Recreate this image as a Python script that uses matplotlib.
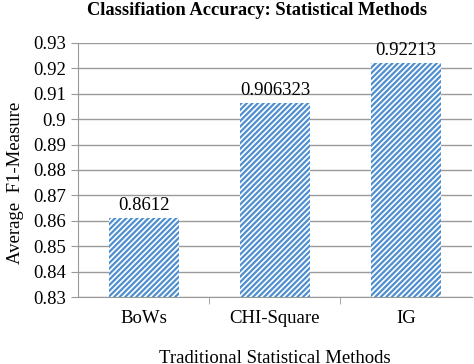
import matplotlib.pyplot as plt

# Data
methods = ['BoWs', 'CHI-Square', 'IG']
scores = [0.8612, 0.906323, 0.92213]
labels = ['0.8612', '0.906323', '0.92213']

plt.rcParams['font.family'] = ['Liberation Serif', 'DejaVu Serif']
plt.rcParams['hatch.linewidth'] = 1.6
plt.rcParams['hatch.color'] = '#4f8fd0'

fig = plt.figure(figsize=(4.74, 3.64), dpi=100)
ax = fig.add_axes([0.165, 0.184, 0.83, 0.698])

bars = ax.bar(range(len(methods)), scores, width=0.53, color='white',
              edgecolor='#4f8fd0', hatch='//////', linewidth=0, zorder=3)

# value labels above bars
for bar, txt in zip(bars, labels):
    ax.annotate(txt, xy=(bar.get_x() + bar.get_width() / 2, bar.get_height()),
                xytext=(0, 3), textcoords='offset points',
                ha='center', va='bottom', fontsize=13.5, zorder=4)

ax.set_ylim(0.83, 0.93)
ax.set_xlim(-0.5, 2.5)
ax.set_yticks([0.83 + 0.01 * i for i in range(11)])
ax.set_yticklabels(['0.83', '0.84', '0.85', '0.86', '0.87', '0.88',
                    '0.89', '0.9', '0.91', '0.92', '0.93'])
ax.set_xticks(range(len(methods)))
ax.set_xticklabels(methods)
ax.tick_params(axis='both', labelsize=13.5, color='#999999')
ax.tick_params(axis='x', length=0, pad=9)
ax.tick_params(axis='y', length=5, pad=4)
# minor ticks between categories
ax.set_xticks([0.5, 1.5], minor=True)
ax.tick_params(axis='x', which='minor', length=5, color='#999999')

ax.grid(axis='y', color='#9a9a9a', linewidth=1.0, zorder=0)
for s in ['top', 'right']:
    ax.spines[s].set_visible(False)
ax.spines['left'].set_color('#999999')
ax.spines['bottom'].set_color('#999999')

ax.set_ylabel('Average  F1-Measure', fontsize=13.5)
ax.yaxis.set_label_coords(-0.138, 0.45)
ax.set_xlabel('Traditional Statistical Methods', fontsize=13.5, labelpad=17)
fig.text(0.543, 0.97, 'Classifiation Accuracy: Statistical Methods',
         ha='center', va='center', fontsize=13.3, fontweight='bold')

fig.savefig('out.png', dpi=100)
